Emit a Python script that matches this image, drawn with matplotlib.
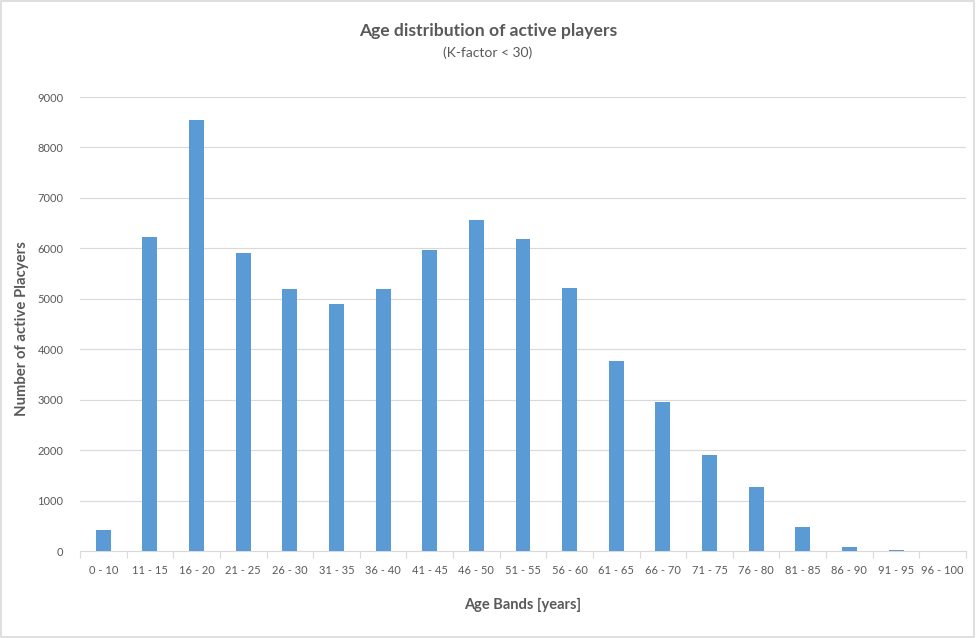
import matplotlib.pyplot as plt
import numpy as np

# age bands and player counts
age_bands = ["0 - 10", "11 - 15", "16 - 20", "21 - 25", "26 - 30", "31 - 35", "36 - 40",
             "41 - 45", "46 - 50", "51 - 55", "56 - 60", "61 - 65", "66 - 70", "71 - 75",
             "76 - 80", "81 - 85", "86 - 90", "91 - 95", "96 - 100"]
players = [420, 6230, 8550, 5910, 5200, 4900, 5200, 5970, 6570, 6180, 5220, 3770,
           2960, 1910, 1270, 480, 85, 25, 3]

plt.rcParams['font.family'] = ['Lato', 'DejaVu Sans']
txt = '#595959'
grid_col = '#d9d9d9'

fig = plt.figure(figsize=(9.76, 6.38), dpi=100)
ax = fig.add_axes([80/976, (638-551)/638, 886/976, (551-97)/638])

x = np.arange(len(age_bands))
ax.bar(x, players, width=0.32, color='#5b9bd5', zorder=3)

ax.set_xlim(-0.5, len(age_bands) - 0.5)
ax.set_ylim(0, 9000)
ax.set_yticks(range(0, 9001, 1000))
ax.set_xticks(x)
ax.set_xticklabels(age_bands)
ax.set_xticks(np.arange(-0.5, len(age_bands)), minor=True)

ax.tick_params(axis='x', which='major', length=0, pad=10, labelsize=8, labelcolor=txt)
ax.tick_params(axis='x', which='minor', length=5, width=0.8, color=grid_col)
ax.tick_params(axis='y', length=0, pad=12, labelsize=8, labelcolor=txt)

ax.grid(axis='y', color=grid_col, linewidth=0.8, zorder=0)
for s in ['top', 'right', 'left']:
    ax.spines[s].set_visible(False)
ax.spines['bottom'].set_color(grid_col)
ax.spines['bottom'].set_linewidth(0.8)

fig.text(0.5, 1 - 31/638, "Age distribution of active players", ha='center', va='center',
         fontsize=12.6, fontweight='bold', color=txt)
fig.text(0.5, 1 - 53/638, "(K-factor < 30)", ha='center', va='center',
         fontsize=10, color=txt)
fig.text(523/976, 1 - 605/638, "Age Bands [years]", ha='center', va='center',
         fontsize=10.5, fontweight='bold', color=txt)
fig.text(22/976, 1 - 329/638, "Number of active Placyers", ha='center', va='center',
         rotation=90, fontsize=10.7, fontweight='bold', color=txt)

# light border round the whole chart
fig.patches.append(plt.Rectangle((0.001, 0.002), 0.997, 0.996, transform=fig.transFigure,
                                 fill=False, edgecolor=grid_col, linewidth=1.2))

fig.savefig('out.png', dpi=100)
